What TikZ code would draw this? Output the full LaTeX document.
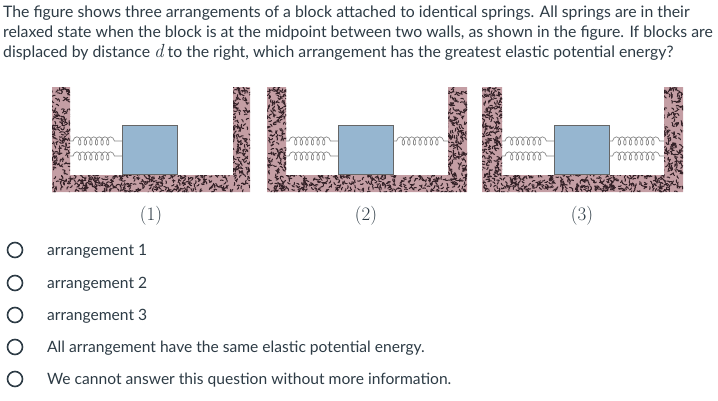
\documentclass[tikz,border=0pt]{standalone}
\usepackage{fontspec}
\setmainfont{Lato}
\newfontfamily\lmr{Latin Modern Roman}
\usetikzlibrary{decorations.pathmorphing}
\definecolor{txt}{HTML}{2D3B45}
\definecolor{wallc}{RGB}{196,158,164}
\definecolor{speck}{RGB}{50,32,38}
\definecolor{blockc}{RGB}{150,182,208}
\definecolor{springc}{RGB}{135,135,135}
\tikzset{
  qtext/.style={anchor=base west, inner sep=0pt, font=\fontsize{15.8}{18}\selectfont, text=txt},
  opt/.style={anchor=base west, inner sep=0pt, font=\fontsize{15.6}{17}\selectfont, text=txt},
  radio/.style={circle, draw=txt, line width=1.6pt, minimum size=15pt, inner sep=0pt},
  blk/.style={draw=gray!80!black, line width=0.6pt, fill=blockc, minimum width=55pt, minimum height=49pt, inner sep=0pt, anchor=south west},
  spring/.style={draw=springc, line width=0.7pt, decorate, decoration={coil, aspect=0.6, amplitude=4.2pt, segment length=5.6pt, pre length=3pt, post length=3pt}},
  lab/.style={font=\fontsize{19}{22}\selectfont\lmr, text=txt, inner sep=0pt}
}
\newcommand{\ushape}[4]{%
  \fill[wallc] (#1,87)--(#2,87)--(#2,175)--(#3,175)--(#3,87)--(#4,87)--(#4,192)--(#1,192)--cycle;
  \begin{scope}
  \clip (#1,87)--(#2,87)--(#2,175)--(#3,175)--(#3,87)--(#4,87)--(#4,192)--(#1,192)--cycle;
  \foreach \i in {1,...,2200}{
    \pgfmathsetmacro{\px}{#1+rnd*(#4-#1)}
    \pgfmathsetmacro{\py}{87+rnd*105}
    \pgfmathsetmacro{\pa}{rnd*360}
    \draw[speck, line width=1pt, line cap=round] (\px,\py) -- ++(\pa:1.6pt) arc[start angle=\pa-90, end angle=\pa-20, radius=1.2pt];
  }
  \end{scope}}
\begin{document}
\begin{tikzpicture}[x=1pt,y=-1pt]
\useasboundingbox (0,0) rectangle (718,400);
\pgfmathsetseed{7}
\node[qtext] (t1) at (3,17) {The figure shows three arrangements of a block attached to identical springs. All springs are in their};
\node[qtext] (t2) at (3,37) {relaxed state when the block is at the midpoint between two walls, as shown in the figure. If blocks are};
\node[qtext] (t3) at (3,57) {displaced by distance {\lmr\itshape\fontsize{19}{20}\selectfont d} to the right, which arrangement has the greatest elastic potential energy?};
% arrangement 1
\ushape{52}{70}{233}{250}
\node[blk] (b1) at (122,175) {};
\coordinate (w1a) at (70,141); \coordinate (w1b) at (70,156);
\draw[spring] (w1a) -- (w1a -| b1.west);
\draw[spring] (w1b) -- (w1b -| b1.west);
% arrangement 2
\ushape{267}{286}{448}{467}
\node[blk] (b2) at (338,175) {};
\coordinate (w2a) at (286,141); \coordinate (w2b) at (286,156); \coordinate (w2c) at (448,141);
\draw[spring] (w2a) -- (w2a -| b2.west);
\draw[spring] (w2b) -- (w2b -| b2.west);
\draw[spring] (w2a -| b2.east) -- (w2c);
% arrangement 3
\ushape{482}{502}{664}{683}
\node[blk] (b3) at (554,175) {};
\coordinate (w3a) at (502,141); \coordinate (w3b) at (502,156);
\coordinate (w3c) at (664,141); \coordinate (w3d) at (664,156);
\draw[spring] (w3a) -- (w3a -| b3.west);
\draw[spring] (w3b) -- (w3b -| b3.west);
\draw[spring] (w3a -| b3.east) -- (w3c);
\draw[spring] (w3b -| b3.east) -- (w3d);
\node[lab] (l1) at (151,216) {(1)};
\node[lab] (l2) at (366,216) {(2)};
\node[lab] (l3) at (582,216) {(3)};
% options
\node[radio] (r1) at (15,250) {}; \node[opt] (o1) at (47,255) {arrangement 1};
\node[radio] (r2) at (15,283) {}; \node[opt] (o2) at (47,288) {arrangement 2};
\node[radio] (r3) at (15,315) {}; \node[opt] (o3) at (47,320) {arrangement 3};
\node[radio] (r4) at (15,347) {}; \node[opt] (o4) at (47,352) {All arrangement have the same elastic potential energy.};
\node[radio] (r5) at (15,379) {}; \node[opt] (o5) at (47,384) {We cannot answer this question without more information.};
\end{tikzpicture}
\end{document}
